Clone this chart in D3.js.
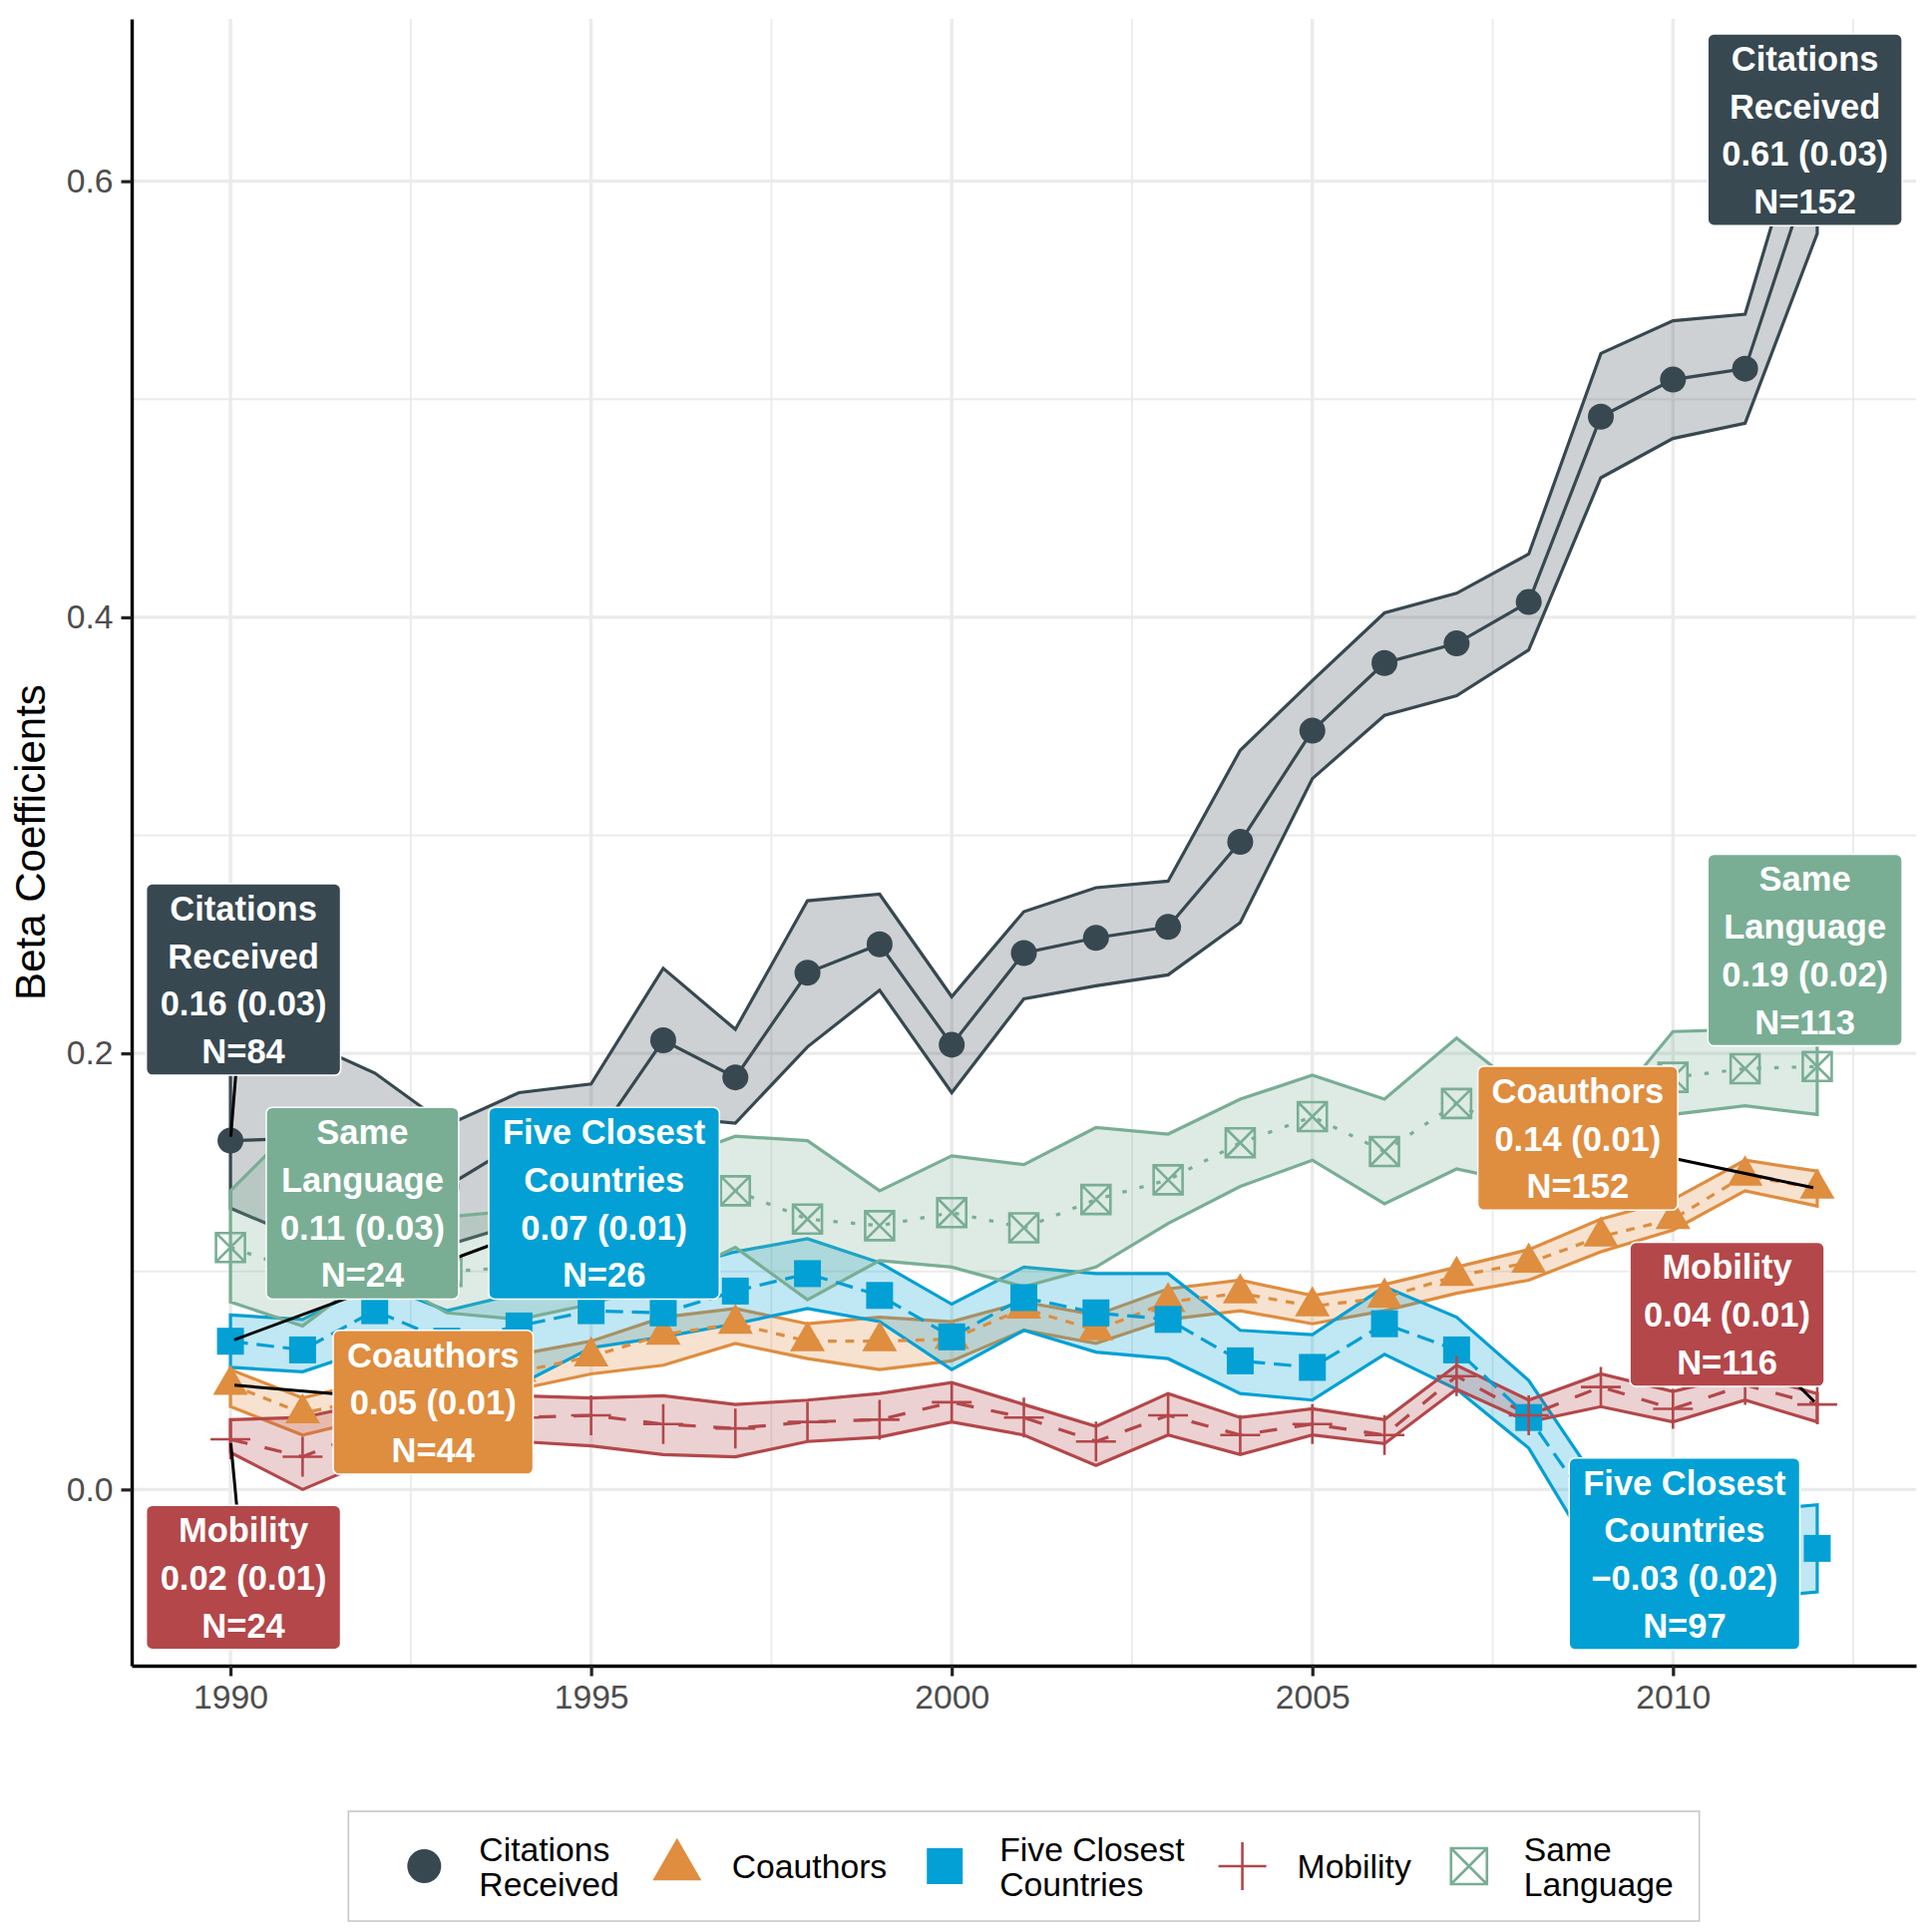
<!DOCTYPE html>
<html>
<head>
<meta charset="utf-8">
<script src="https://cdn.jsdelivr.net/npm/d3@7"></script>
<style>
  body { margin: 0; background: #fff; }
  svg { display: block; font-family: "Liberation Sans", Arial, Helvetica, sans-serif; }
</style>
</head>
<body>
<svg width="1937" height="1933"></svg>
<script>
// years on the x axis
const years = [1990, 1991, 1992, 1993, 1994, 1995, 1996, 1997, 1998, 1999, 2000,
               2001, 2002, 2003, 2004, 2005, 2006, 2007, 2008, 2009, 2010, 2011, 2012];

// Citations Received: estimate, lower and upper bound
const citEst = [0.160, 0.161, 0.150, 0.139, 0.159, 0.158, 0.206, 0.189, 0.237, 0.250, 0.204, 0.246, 0.253, 0.258, 0.297, 0.348, 0.379, 0.388, 0.407, 0.492, 0.509, 0.514, 0.614];
const citLo  = [0.129, 0.115, 0.110, 0.112, 0.122, 0.130, 0.171, 0.168, 0.203, 0.229, 0.182, 0.225, 0.231, 0.236, 0.260, 0.326, 0.355, 0.364, 0.385, 0.464, 0.482, 0.489, 0.576];
const citHi  = [0.215, 0.206, 0.191, 0.167, 0.182, 0.186, 0.239, 0.211, 0.270, 0.273, 0.226, 0.265, 0.276, 0.279, 0.339, 0.371, 0.402, 0.411, 0.429, 0.521, 0.536, 0.539, 0.650];

// Coauthors
const coaEst = [0.048, 0.035, 0.042, 0.048, 0.054, 0.061, 0.071, 0.076, 0.068, 0.068, 0.069, 0.083, 0.073, 0.086, 0.090, 0.084, 0.088, 0.098, 0.104, 0.116, 0.124, 0.144, 0.138];
const coaLo  = [0.038, 0.025, 0.033, 0.039, 0.046, 0.053, 0.057, 0.067, 0.060, 0.055, 0.059, 0.073, 0.067, 0.078, 0.082, 0.076, 0.082, 0.090, 0.096, 0.109, 0.119, 0.137, 0.130];
const coaHi  = [0.055, 0.042, 0.050, 0.056, 0.062, 0.068, 0.079, 0.083, 0.076, 0.079, 0.077, 0.086, 0.080, 0.092, 0.096, 0.089, 0.094, 0.102, 0.110, 0.124, 0.133, 0.151, 0.146];

// Five Closest Countries
const fiveEst = [0.068, 0.064, 0.082, 0.068, 0.075, 0.082, 0.081, 0.091, 0.099, 0.089, 0.070, 0.088, 0.081, 0.078, 0.059, 0.056, 0.076, 0.064, 0.033, -0.014, -0.024, -0.030, -0.027];
const fiveLo  = [0.056, 0.054, 0.065, 0.050, 0.048, 0.065, 0.070, 0.076, 0.083, 0.077, 0.055, 0.073, 0.063, 0.060, 0.044, 0.041, 0.062, 0.046, 0.019, -0.036, -0.045, -0.050, -0.047];
const fiveHi  = [0.080, 0.078, 0.095, 0.082, 0.090, 0.095, 0.100, 0.109, 0.115, 0.104, 0.085, 0.102, 0.099, 0.099, 0.073, 0.071, 0.093, 0.079, 0.050, 0.001, -0.008, -0.010, -0.007];

// Mobility
const mobEst = [0.023, 0.015, 0.028, 0.032, 0.033, 0.034, 0.030, 0.028, 0.031, 0.032, 0.040, 0.033, 0.022, 0.034, 0.025, 0.030, 0.025, 0.052, 0.034, 0.047, 0.037, 0.048, 0.039];
const mobLo  = [0.017, 0.000, 0.014, 0.020, 0.022, 0.020, 0.016, 0.015, 0.022, 0.024, 0.031, 0.025, 0.011, 0.025, 0.016, 0.025, 0.021, 0.046, 0.031, 0.038, 0.031, 0.041, 0.031];
const mobHi  = [0.032, 0.033, 0.040, 0.044, 0.043, 0.042, 0.043, 0.039, 0.041, 0.044, 0.049, 0.039, 0.029, 0.044, 0.033, 0.037, 0.032, 0.057, 0.041, 0.053, 0.045, 0.053, 0.044];

// Same Language
const langEst = [0.111, 0.100, 0.110, 0.100, 0.102, 0.115, 0.125, 0.137, 0.124, 0.121, 0.127, 0.120, 0.133, 0.142, 0.159, 0.171, 0.155, 0.177, 0.160, 0.152, 0.189, 0.193, 0.194];
const langLo  = [0.086, 0.075, 0.100, 0.081, 0.078, 0.085, 0.095, 0.111, 0.087, 0.105, 0.102, 0.093, 0.102, 0.122, 0.139, 0.151, 0.131, 0.147, 0.140, 0.130, 0.172, 0.176, 0.172];
const langHi  = [0.137, 0.170, 0.150, 0.125, 0.128, 0.138, 0.150, 0.162, 0.160, 0.137, 0.153, 0.149, 0.166, 0.163, 0.179, 0.190, 0.179, 0.207, 0.181, 0.170, 0.210, 0.211, 0.215];

const seriesNames  = ["Citations Received", "Coauthors", "Five Closest Countries", "Mobility", "Same Language"];
const legendLines  = [["Citations", "Received"], ["Coauthors"], ["Five Closest", "Countries"], ["Mobility"], ["Same", "Language"]];
const seriesColors = ["#374850", "#df8d3f", "#02a0d4", "#b3474a", "#79ae94"];
const seriesShapes = ["circle", "triangle", "square", "plus", "boxcross"];
const seriesDash   = [null, "8.8,8.8", "17.6,8.8", "17.6,17.6", "4.4,13.2"];

// axis ticks
const yTicks = [0, 0.2, 0.4, 0.6];
const yMinor = [0.1, 0.3, 0.5];
const xTicks = [1990, 1995, 2000, 2005, 2010];
const xMinor = [1992.5, 1997.5, 2002.5, 2007.5, 2012.5];

// repelled labels: series index, text, centre of the box in data units
const labelSeries = [0, 4, 2, 1, 3, 0, 4, 1, 3, 2];
const labelText = [
    ["Citations", "Received", "0.16 (0.03)", "N=84"],
    ["Same", "Language", "0.11 (0.03)", "N=24"],
    ["Five Closest", "Countries", "0.07 (0.01)", "N=26"],
    ["Coauthors", "0.05 (0.01)", "N=44"],
    ["Mobility", "0.02 (0.01)", "N=24"],
    ["Citations", "Received", "0.61 (0.03)", "N=152"],
    ["Same", "Language", "0.19 (0.02)", "N=113"],
    ["Coauthors", "0.14 (0.01)", "N=152"],
    ["Mobility", "0.04 (0.01)", "N=116"],
    ["Five Closest", "Countries", "\u22120.03 (0.02)", "N=97"]
];
const labelYear    = [1990.18, 1991.83, 1995.18, 1992.81, 1990.18, 2011.83, 2011.83, 2008.68, 2010.75, 2010.16];
const labelValue   = [0.2339, 0.1313, 0.1313, 0.0400, -0.0403, 0.6236, 0.2474, 0.1611, 0.0803, -0.0295];
const labelAtYear  = [1990, 1990, 1990, 1990, 1990, 2012, 2012, 2012, 2012, 2012];
const labelSegment = [true, false, true, true, true, false, false, true, true, false];

const estimates = [citEst, coaEst, fiveEst, mobEst, langEst];
const lowers    = [citLo, coaLo, fiveLo, mobLo, langLo];
const uppers    = [citHi, coaHi, fiveHi, mobHi, langHi];

function buildSeries() {
    return seriesNames.map((name, k) => ({
        name: name,
        color: seriesColors[k],
        shape: seriesShapes[k],
        dash: seriesDash[k],
        values: years.map((yr, i) => ({ year: yr, est: estimates[k][i], lo: lowers[k][i], hi: uppers[k][i] }))
    }));
}

// marker outline, centred at 0,0
function markerPath(shape, r) {
    if (shape === "circle") return d3.symbol(d3.symbolCircle, Math.PI * r * r)();
    if (shape === "square") return d3.symbol(d3.symbolSquare, 4 * r * r)();
    if (shape === "triangle") {
        const ra = r * 1.1547;
        return `M0,${-ra}L${r},${ra / 2}L${-r},${ra / 2}Z`;
    }
    if (shape === "plus") return `M${-r},0H${r}M0,${-r}V${r}`;
    return `M${-r},${-r}H${r}V${r}H${-r}ZM${-r},${-r}L${r},${r}M${r},${-r}L${-r},${r}`;
}
const plotMarkerSize   = { circle: 13, triangle: 17.5, square: 13.5, plus: 20, boxcross: 14.5 };
const legendMarkerSize = { circle: 17, triangle: 24.5, square: 18, plus: 24, boxcross: 18 };

function drawMarker(g, shape, color, r) {
    const filled = shape === "circle" || shape === "triangle" || shape === "square";
    g.append("path")
    .attr("d", markerPath(shape, r))
    .attr("fill", filled ? color : "none")
    .attr("stroke", filled ? "none" : color)
    .attr("stroke-width", filled ? 0 : 2.6);
}

function drawChart() {
    const svg = d3.select("svg");
    const area = { left: 132, right: 1921, top: 19, bottom: 1670 };

    const scX = d3.scaleLinear().domain([1988.63, 2013.37]).range([area.left, area.right]);
    const scY = d3.scaleLinear().domain([-0.0808, 0.6744]).range([area.bottom, area.top]);

    // grid
    const grid = svg.append("g");
    grid.selectAll(".gx-minor").data(xMinor).enter().append("line")
    .attr("x1", d => scX(d)).attr("x2", d => scX(d))
    .attr("y1", area.top).attr("y2", area.bottom)
    .attr("stroke", "#ebebeb").attr("stroke-width", 1.8);
    grid.selectAll(".gy-minor").data(yMinor).enter().append("line")
    .attr("x1", area.left).attr("x2", area.right)
    .attr("y1", d => scY(d)).attr("y2", d => scY(d))
    .attr("stroke", "#ebebeb").attr("stroke-width", 1.8);
    grid.selectAll(".gx").data(xTicks).enter().append("line")
    .attr("x1", d => scX(d)).attr("x2", d => scX(d))
    .attr("y1", area.top).attr("y2", area.bottom)
    .attr("stroke", "#ebebeb").attr("stroke-width", 3.4);
    grid.selectAll(".gy").data(yTicks).enter().append("line")
    .attr("x1", area.left).attr("x2", area.right)
    .attr("y1", d => scY(d)).attr("y2", d => scY(d))
    .attr("stroke", "#ebebeb").attr("stroke-width", 3.4);

    const data = buildSeries();

    // ribbons
    const ribbon = d3.area().x(d => scX(d.year)).y0(d => scY(d.lo)).y1(d => scY(d.hi));
    svg.append("g").selectAll("path").data(data).enter().append("path")
    .attr("d", d => ribbon(d.values))
    .attr("fill", d => d.color).attr("fill-opacity", 0.25)
    .attr("stroke", d => d.color).attr("stroke-width", 3.2)
    .attr("stroke-linejoin", "miter");

    // estimate lines
    const line = d3.line().x(d => scX(d.year)).y(d => scY(d.est));
    svg.append("g").selectAll("path").data(data).enter().append("path")
    .attr("d", d => line(d.values))
    .attr("fill", "none")
    .attr("stroke", d => d.color).attr("stroke-width", 3.2)
    .attr("stroke-dasharray", d => d.dash);

    // points
    const pts = svg.append("g");
    data.forEach(s => {
        s.values.forEach(v => {
            const g = pts.append("g").attr("transform", `translate(${scX(v.year)},${scY(v.est)})`);
            drawMarker(g, s.shape, s.color, plotMarkerSize[s.shape]);
        });
    });

    // axes
    const axisX = d3.axisBottom(scX).tickValues(xTicks).tickFormat(d3.format("d"))
    .tickSizeInner(10.5).tickSizeOuter(0).tickPadding(8);
    const gx = svg.append("g").attr("transform", `translate(0,${area.bottom})`).call(axisX);
    const axisY = d3.axisLeft(scY).tickValues(yTicks).tickFormat(d3.format(".1f"))
    .tickSizeInner(10.5).tickSizeOuter(0).tickPadding(8);
    const gy = svg.append("g").attr("transform", `translate(${area.left},0)`).call(axisY);
    [gx, gy].forEach(g => {
        g.select(".domain").attr("stroke", "#000").attr("stroke-width", 3.4);
        g.selectAll(".tick line").attr("stroke", "#222").attr("stroke-width", 3.2);
        g.selectAll(".tick text").attr("fill", "#4d4d4d").style("font-size", "33.7px")
        .style("font-family", "'Liberation Sans', Arial, sans-serif");
    });
    gx.selectAll(".tick text").attr("dy", "0.72em");

    svg.append("text")
    .attr("transform", `translate(45,${(area.top + area.bottom) / 2}) rotate(-90)`)
    .attr("text-anchor", "middle")
    .style("font-size", "42px")
    .text("Beta Coefficients");

    drawLabels(svg, data, scX, scY);
    drawLegend(svg, area);
}

function drawLabels(svg, data, scX, scY) {
    const lineH = 47.8;
    const pad = 14;
    const segLayer = svg.append("g");
    const boxLayer = svg.append("g");

    labelText.forEach((lines, i) => {
        const s = data[labelSeries[i]];
        const cx = scX(labelYear[i]);
        const cy = scY(labelValue[i]);
        const g = boxLayer.append("g");
        const rect = g.append("rect");
        let maxW = 0;
        lines.forEach((t, j) => {
            const txt = g.append("text")
            .attr("x", cx)
            .attr("y", cy + (j - (lines.length - 1) / 2) * lineH)
            .attr("dy", "0.36em")
            .attr("text-anchor", "middle")
            .attr("fill", "#fff")
            .style("font-size", "34.5px")
            .style("font-weight", "bold")
            .text(t);
            maxW = Math.max(maxW, txt.node().getComputedTextLength());
        });
        const w = maxW + 2 * pad;
        const h = lines.length * lineH + 1;
        rect.attr("x", cx - w / 2).attr("y", cy - h / 2)
        .attr("width", w).attr("height", h)
        .attr("rx", 6).attr("ry", 6)
        .attr("fill", s.color)
        .attr("stroke", "#fff").attr("stroke-width", 1.5);

        if (labelSegment[i]) {
            const v = s.values.find(d => d.year === labelAtYear[i]);
            const px = scX(v.year), py = scY(v.est);
            const dx = px - cx, dy = py - cy;
            const t = Math.min(dx !== 0 ? (w / 2) / Math.abs(dx) : Infinity,
                               dy !== 0 ? (h / 2) / Math.abs(dy) : Infinity);
            const len = Math.hypot(dx, dy);
            const endPad = 4 / len;
            segLayer.append("line")
            .attr("x1", cx + dx * t).attr("y1", cy + dy * t)
            .attr("x2", px - dx * endPad).attr("y2", py - dy * endPad)
            .attr("stroke", "#000").attr("stroke-width", 3);
        }
    });
}

function drawLegend(svg, area) {
    const cy = 1871;
    const g = svg.append("g");
    const box = g.append("rect");
    const items = g.append("g");
    let x = 0;
    seriesNames.forEach((name, k) => {
        const key = items.append("g").attr("transform", `translate(${x},${cy})`);
        drawMarker(key, seriesShapes[k], seriesColors[k], legendMarkerSize[seriesShapes[k]]);
        const lines = legendLines[k];
        let maxW = 0;
        lines.forEach((t, j) => {
            const txt = items.append("text")
            .attr("x", x + 55)
            .attr("y", cy + (j - (lines.length - 1) / 2) * 35)
            .attr("dy", "0.36em")
            .style("font-size", "33.7px")
            .text(t);
            maxW = Math.max(maxW, txt.node().getComputedTextLength());
        });
        x += 55 + maxW + 58;
    });
    const itemsW = x - 58;
    const leftPad = 76, rightPad = 26;
    const totalW = leftPad + itemsW + rightPad;
    const left = (area.left + area.right) / 2 - totalW / 2;
    items.attr("transform", `translate(${left + leftPad},0)`);
    box.attr("x", left).attr("y", 1816)
    .attr("width", totalW).attr("height", 110)
    .attr("fill", "#fff")
    .attr("stroke", "#c8c8c8").attr("stroke-width", 1.6);
}

drawChart();
</script>
</body>
</html>
